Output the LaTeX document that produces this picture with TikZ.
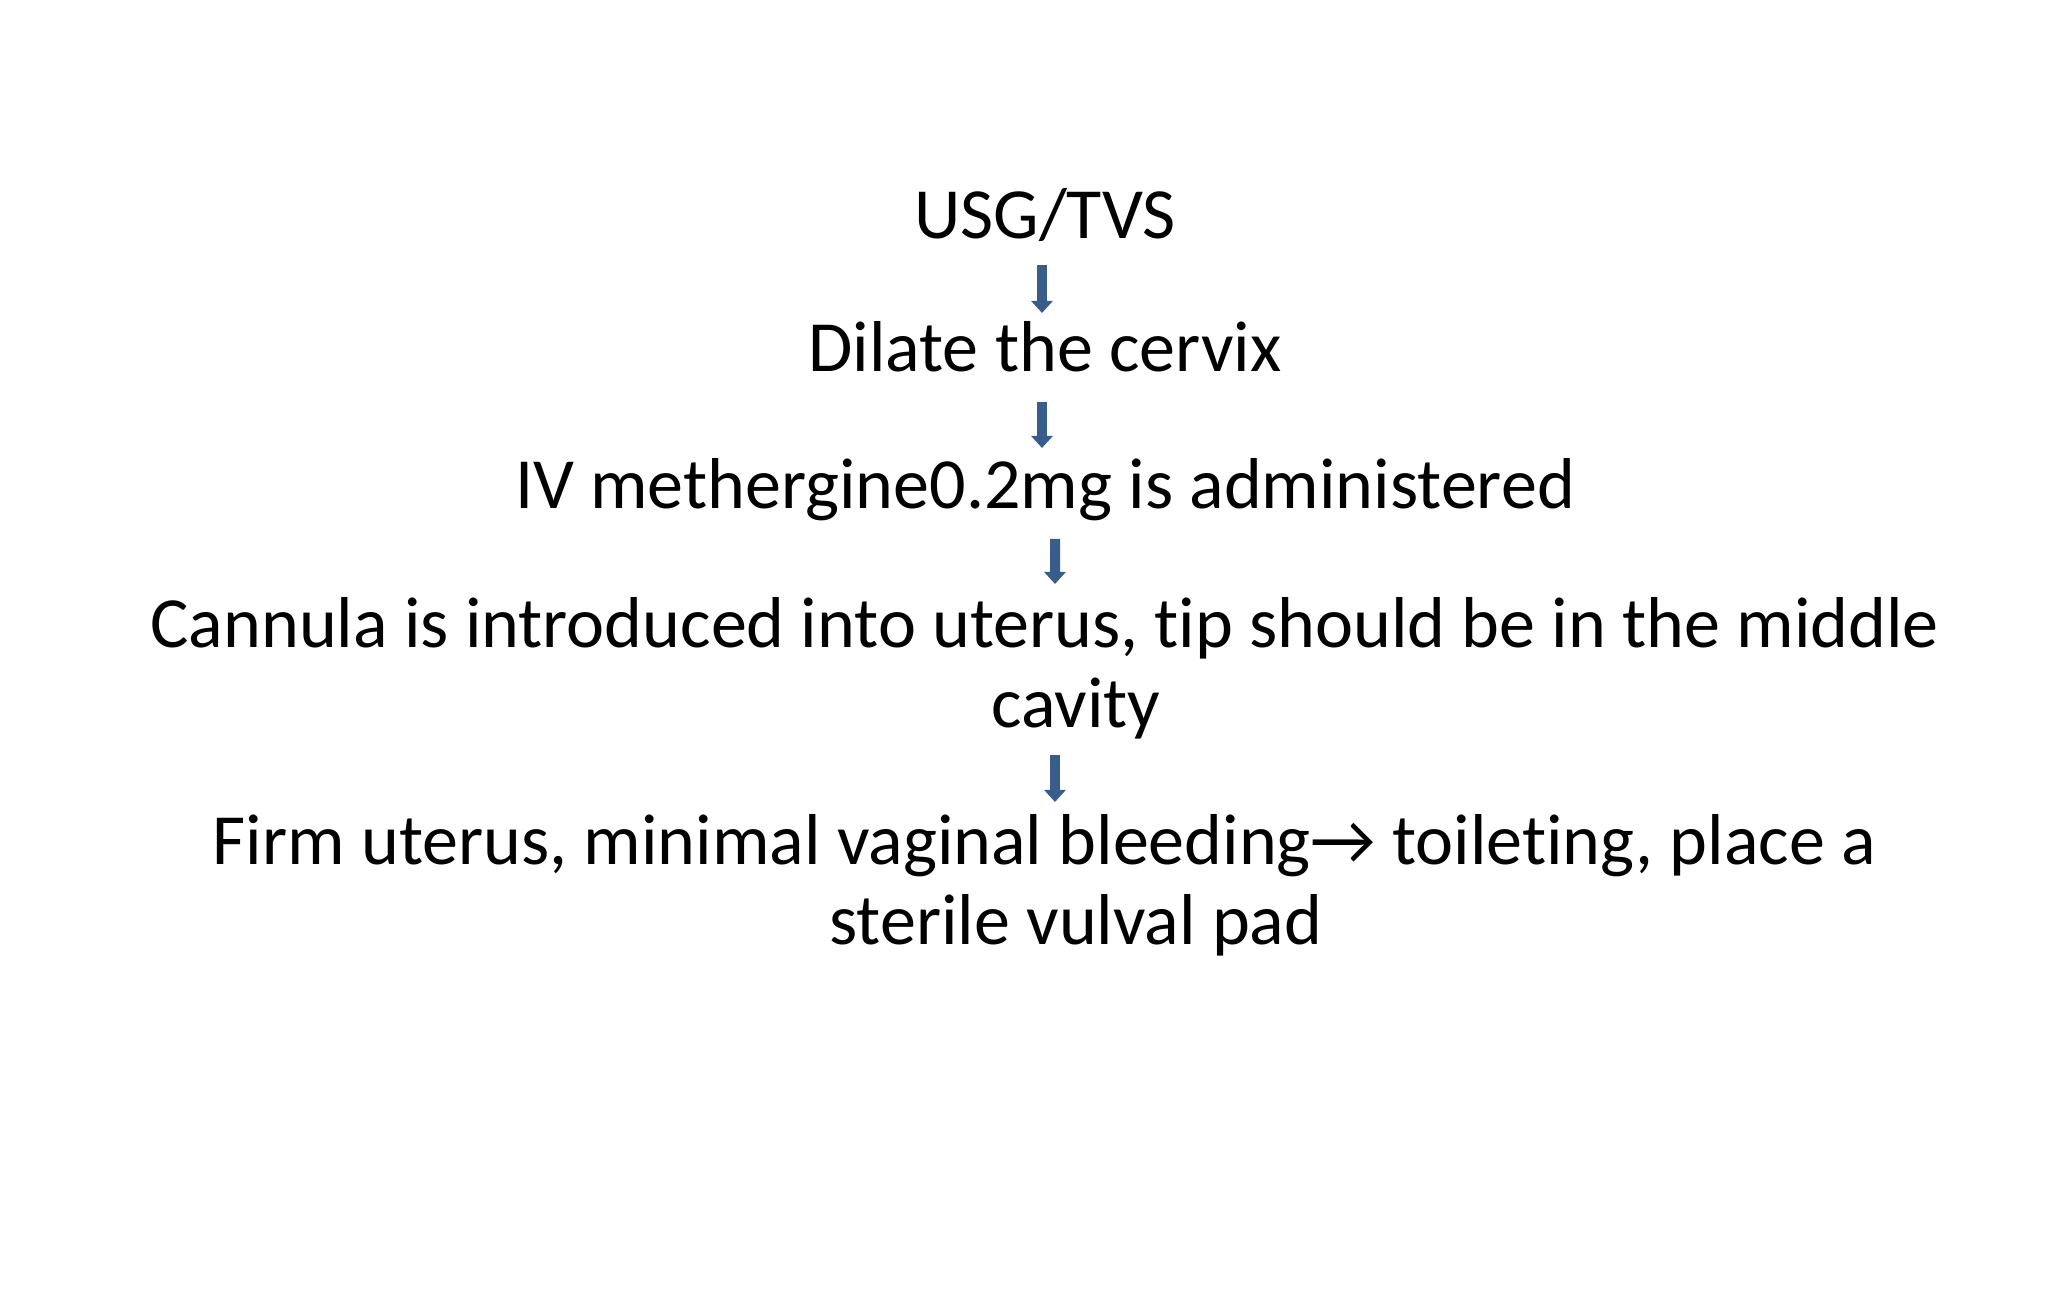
\documentclass[tikz,border=0pt]{standalone}
\usepackage{fontspec}
\setmainfont[Ligatures=NoCommon]{Carlito}
\usetikzlibrary{arrows.meta}

\definecolor{arrowblue}{RGB}{56,93,138}

\tikzset{
	step text/.style={inner sep=0pt, anchor=base, align=center, font=\fontsize{20.5}{22.8}\selectfont},
	flow arrow/.style={draw=arrowblue, line width=0.1cm, -{Triangle[width=0.21cm, length=0.12cm]}},
}

\begin{document}
\begin{tikzpicture}[x=1cm, y=1cm]
				\useasboundingbox (0,0) rectangle (20.48,13);

				% steps (base of a two-line step is its last line)
				\node [step text] (usg) at (10.45,10.61) {USG/TVS};
				\node [step text] (dilate) at (10.45,9.28) {Dilate the cervix};
				\node [step text] (iv) at (10.45,7.91) {IV methergine0.2mg is administered};
				\node [step text] (cannula) at (10.76,5.72) {Cannula is introduced into uterus, tip should be in the middle\hspace*{0.62cm}\\cavity};
				\node [step text] (firm) at (10.76,3.55) {Firm uterus, minimal vaginal bleeding→ toileting, place a\hspace*{0.63cm}\\sterile vulval pad};

				% arrows between steps
				\draw [flow arrow] ([shift={(-0.03,-0.26)}]usg.base) -- ([shift={(-0.03,0.59)}]dilate.base);
				\draw [flow arrow] ([shift={(-0.03,-0.30)}]dilate.base) -- ([shift={(-0.03,0.61)}]iv.base);
				\draw [flow arrow] ([shift={(0.10,-0.30)}]iv.base) -- ([shift={(-0.21,1.44)}]cannula.base);
				\draw [flow arrow] ([shift={(-0.21,-0.27)}]cannula.base) -- ([shift={(-0.21,1.43)}]firm.base);

\end{tikzpicture}
\end{document}
